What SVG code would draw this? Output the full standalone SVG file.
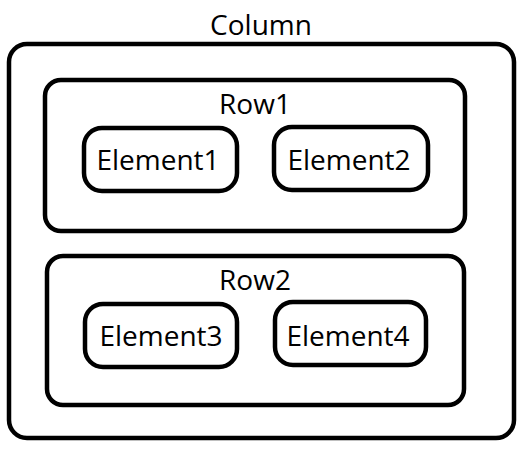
<svg xmlns="http://www.w3.org/2000/svg" width="526" height="451" viewBox="0 0 526 451">
<style>
.box{fill:none;stroke:#000;stroke-width:4.5}
.t{font-family:"Open Sans","Noto Sans",sans-serif;font-size:28px;fill:#000;text-anchor:middle}
</style>
<rect x="0" y="0" width="526" height="451" fill="#fff"/>
<g id="column">
<rect class="box" x="9" y="44" width="505" height="394" rx="18"/>
<text class="t" x="261" y="35">Column</text>
</g>
<g id="row1">
<rect class="box" x="45" y="80" width="420" height="151" rx="16"/>
<text class="t" x="255" y="114">Row1</text>
</g>
<g id="row2">
<rect class="box" x="47" y="256" width="417" height="149" rx="16"/>
<text class="t" x="255" y="290">Row2</text>
</g>
<g id="element1">
<rect class="box" x="84" y="128" width="153" height="63" rx="18"/>
<text class="t" x="158" y="170">Element1</text>
</g>
<g id="element2">
<rect class="box" x="274" y="127" width="154" height="63" rx="18"/>
<text class="t" x="349" y="170">Element2</text>
</g>
<g id="element3">
<rect class="box" x="85" y="304" width="152" height="63" rx="18"/>
<text class="t" x="161" y="346">Element3</text>
</g>
<g id="element4">
<rect class="box" x="275" y="302" width="151" height="63" rx="18"/>
<text class="t" x="348" y="346">Element4</text>
</g>
<g id="connectors"></g>
</svg>
